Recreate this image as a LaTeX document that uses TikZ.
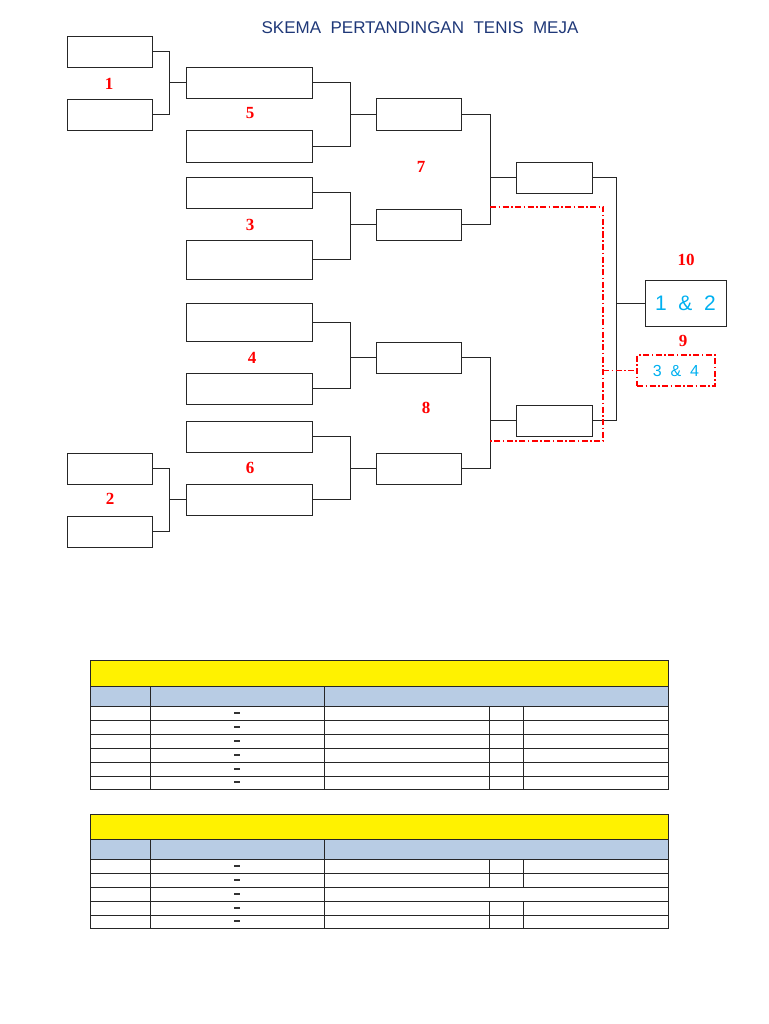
\documentclass[tikz,border=0pt]{standalone}
\usepackage{fontspec}
\setmainfont{Liberation Serif}
\newfontfamily\sansf{Liberation Sans}
\definecolor{ttl}{RGB}{31,56,120}
\definecolor{cy}{RGB}{0,176,240}
\definecolor{hb}{RGB}{184,204,228}
\definecolor{rr}{RGB}{255,0,0}
\begin{document}
\begin{tikzpicture}[x=1pt,y=-1pt,
  bx/.style={draw=black!85,line width=0.8pt},
  ln/.style={draw=black!85,line width=0.8pt},
  num/.style={text=rr,font=\bfseries\fontsize{17}{17}\selectfont},
  rd/.style={draw=rr,color=rr,line width=1.1pt,dash pattern=on 6pt off 2.5pt on 1.5pt off 2.5pt},
  tl/.style={draw=black!85,line width=0.8pt}]
\useasboundingbox (0,0) rectangle (768,1024);
\node[font=\sansf\fontsize{17}{17}\selectfont,text=ttl] (title) at (420,28) {SKEMA\ \ PERTANDINGAN\ \ TENIS\ \ MEJA};
% boxes
\foreach \n/\a/\b/\c/\d in {A1/67/36/152/67,A2/67/99/152/130,A3/67/453/152/484,A4/67/516/152/547,
 B1/186/67/312/98,B2/186/130/312/162,B3/186/177/312/208,B4/186/240/312/279,
 B5/186/303/312/341,B6/186/373/312/404,B7/186/421/312/452,B8/186/484/312/515,
 C1/376/98/461/130,C2/376/209/461/240,C3/376/342/461/373,C4/376/453/461/484,
 D1/516/162/592/193,D2/516/405/592/436}
 {\node[bx,minimum width=\c-\a,minimum height=\d-\b,inner sep=0pt] (\n) at ({(\a+\c)/2},{(\b+\d)/2}) {};}
\node[bx,minimum width=81,minimum height=46,inner sep=0pt,text=cy,font=\sansf\fontsize{21}{21}\selectfont] (E) at (685.5,303) {1\ \ \&\ \ 2};
\node[rd,minimum width=78,minimum height=31,inner sep=0pt,text=cy,font=\sansf\fontsize{16}{16}\selectfont] (F) at (676,370.5) {3\ \ \&\ \ 4};
% connectors
\newcommand{\brk}[4]{%
  \draw[ln] (#1.east) -- (#3,0 |- #1.east) -- (#3,0 |- #2.east) -- (#2.east);
  \draw[ln] (#3,0 |- #4.west) -- (#4.west);}
\brk{A1}{A2}{169}{B1}
\brk{A3}{A4}{169}{B8}
\brk{B1}{B2}{350}{C1}
\brk{B3}{B4}{350}{C2}
\brk{B5}{B6}{350}{C3}
\brk{B7}{B8}{350}{C4}
\brk{C1}{C2}{490}{D1}
\brk{C3}{C4}{490}{D2}
\brk{D1}{D2}{616}{E}
\coordinate (r1) at (490,207); \coordinate (r2) at (603,207);
\coordinate (r3) at (603,441); \coordinate (r4) at (490,441);
\draw[rd] (r1) -- (r2) -- (r3) -- (r4);
\draw[rd] (603,0 |- F.west) -- (F.west);
% numbers
\node[num] (n1) at (109,84) {1};
\node[num] (n2) at (110,499) {2};
\node[num] (n5) at (250,113) {5};
\node[num] (n3) at (250,225) {3};
\node[num] (n4) at (252,358) {4};
\node[num] (n6) at (250,468) {6};
\node[num] (n7) at (421,167) {7};
\node[num] (n8) at (426,408) {8};
\node[num] (n10) at (686,260) {10};
\node[num] (n9) at (683,341) {9};
% tables
\fill[yellow] (90,660) rectangle (668,686);
\fill[hb] (90,686) rectangle (668,706);
\draw[tl] (90,660) rectangle (668,789);
\draw[tl] (90,686) -- (668,686) (90,706) -- (668,706);
\foreach \y in {720,734,748,762,776} \draw[tl] (90,\y) -- (668,\y);
\draw[tl] (150,686) -- (150,789) (324,686) -- (324,789) (489,706) -- (489,789) (523,706) -- (523,789);
\foreach \y in {713,727,741,755,769,782} \draw[line width=1.2pt,black!80] (234,\y) -- (240,\y);
\fill[yellow] (90,814) rectangle (668,839);
\fill[hb] (90,839) rectangle (668,859);
\draw[tl] (90,814) rectangle (668,928);
\draw[tl] (90,839) -- (668,839) (90,859) -- (668,859);
\foreach \y in {873,887,901,915} \draw[tl] (90,\y) -- (668,\y);
\draw[tl] (150,839) -- (150,928) (324,839) -- (324,928) (489,859) -- (489,887) (523,859) -- (523,887) (489,901) -- (489,928) (523,901) -- (523,928);
\foreach \y in {866,880,894,908,921} \draw[line width=1.2pt,black!80] (234,\y) -- (240,\y);
\end{tikzpicture}
\end{document}
